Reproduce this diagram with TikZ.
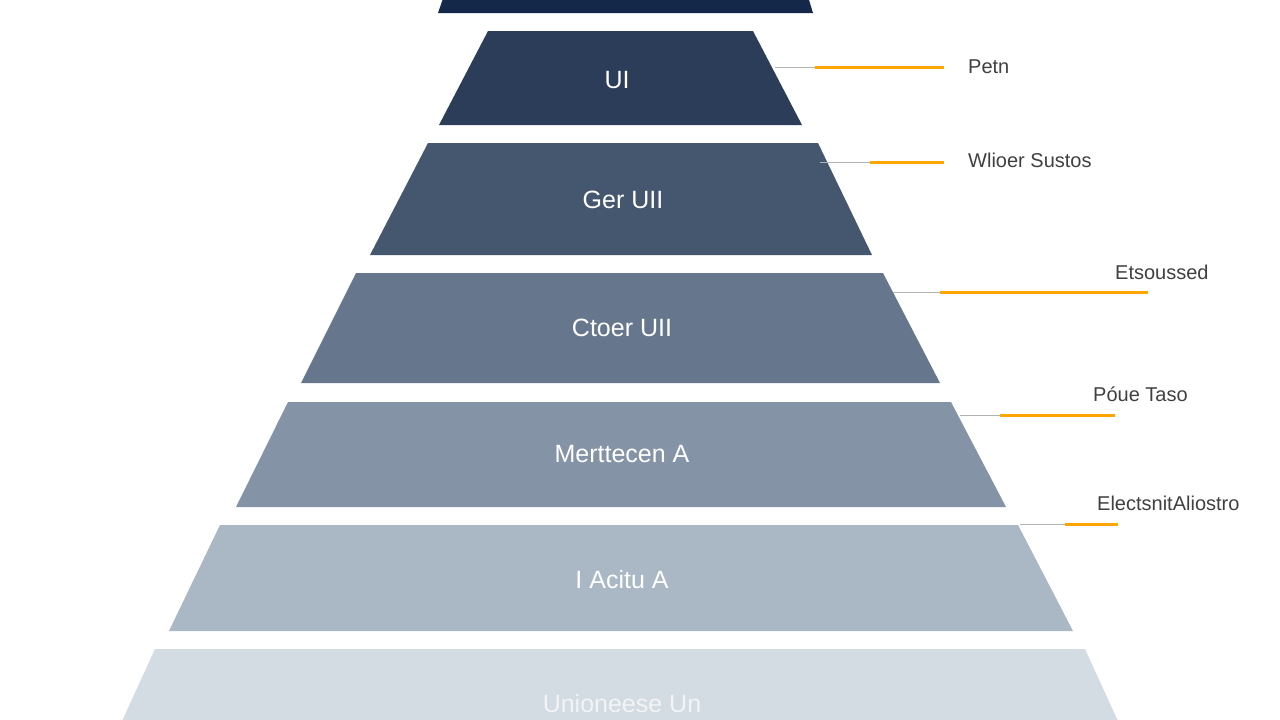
\documentclass[tikz,border=0pt]{standalone}
\usepackage{fontspec}
\setmainfont{Liberation Sans}
\begin{document}
\begin{tikzpicture}[x=1pt,y=-1pt,
  lay/.style={draw=none},
  ctext/.style={text=white,font=\fontsize{25}{28}\selectfont},
  ltext/.style={text=black!75,font=\fontsize{20}{24}\selectfont,anchor=west,inner sep=0},
  gline/.style={draw=black!30,line width=1pt},
  yline/.style={draw=orange!70!yellow,line width=3pt}]
\useasboundingbox (0,0) rectangle (1280,720);
\fill[white] (0,0) rectangle (1280,720);
\definecolor{c0}{HTML}{14284A}\definecolor{c1}{HTML}{2B3D58}\definecolor{c2}{HTML}{45566F}
\definecolor{c3}{HTML}{66778D}\definecolor{c4}{HTML}{8593A6}\definecolor{c5}{HTML}{AAB7C5}\definecolor{c6}{HTML}{D3DBE3}
\fill[c0] (446,-10) -- (806,-10) -- (813,13) -- (438,13) -- cycle;
\fill[c1] (488,31) -- (753,31) -- (802,125) -- (439,125) -- cycle;
\fill[c2] (428,143) -- (818,143) -- (872,255) -- (370,255) -- cycle;
\fill[c3] (356,273) -- (883,273) -- (940,383) -- (301,383) -- cycle;
\fill[c4] (288,402) -- (951,402) -- (1006,507) -- (236,507) -- cycle;
\fill[c5] (220,525) -- (1018,525) -- (1073,631) -- (169,631) -- cycle;
\fill[c6] (155,649) -- (1085,649) -- (1122,730) -- (118,730) -- cycle;
\node[ctext] (t1) at (617,80) {UI};
\node[ctext] (t2) at (623,200) {Ger UII};
\node[ctext] (t3) at (622,328) {Ctoer UII};
\node[ctext] (t4) at (622,454) {Merttecen A};
\node[ctext] (t5) at (622,580) {I Acitu A};
\node[ctext,text=white!85!c5] (t6) at (622,704) {Unioneese Un};
% leaders
\coordinate (a1) at (775,67); \coordinate (b1) at (815,67); \coordinate (e1) at (944,67);
\draw[gline] (a1) -- (b1); \draw[yline] (b1) -- (e1);
\node[ltext] (l1) at (968,67) {Petn};
\coordinate (a2) at (820,162); \coordinate (b2) at (870,162); \coordinate (e2) at (944,162);
\draw[gline] (a2) -- (b2); \draw[yline] (b2) -- (e2);
\node[ltext] (l2) at (968,160) {Wlioer Sustos};
\coordinate (a3) at (893,292); \coordinate (b3) at (940,292); \coordinate (e3) at (1148,292);
\draw[gline] (a3) -- (b3); \draw[yline] (b3) -- (e3);
\node[ltext] (l3) at (1115,272) {Etsoussed};
\coordinate (a4) at (960,415); \coordinate (b4) at (1000,415); \coordinate (e4) at (1115,415);
\draw[gline] (a4) -- (b4); \draw[yline] (b4) -- (e4);
\node[ltext] (l4) at (1093,394) {Póue Taso};
\coordinate (a5) at (1020,524); \coordinate (b5) at (1065,524); \coordinate (e5) at (1118,524);
\draw[gline] (a5) -- (b5); \draw[yline] (b5) -- (e5);
\node[ltext] (l5) at (1097,503) {ElectsnitAliostro};
\end{tikzpicture}
\end{document}
